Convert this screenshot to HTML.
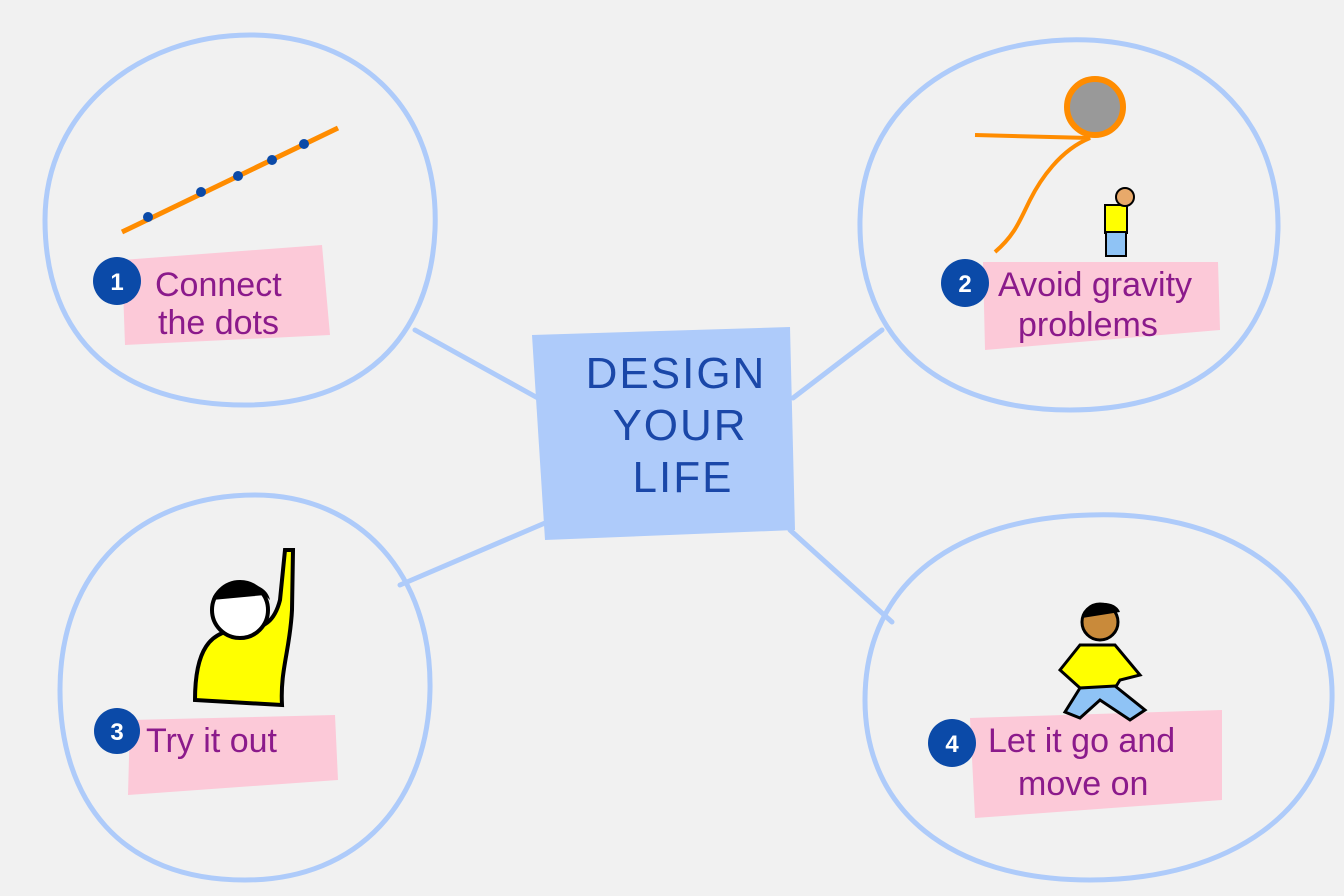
<!DOCTYPE html>
<html><head><meta charset="utf-8"><style>
html,body{margin:0;padding:0;background:#f1f1f1;}
svg{display:block}
text{font-family:"Liberation Sans",sans-serif;}
</style></head><body>
<svg width="1344" height="896" viewBox="0 0 1344 896" xmlns="http://www.w3.org/2000/svg">
<rect width="1344" height="896" fill="#f1f1f1"/>
<g fill="none" stroke="#aecbfa" stroke-width="5" stroke-linecap="round">
<!-- connectors -->
<path d="M415 330 L545 402"/>
<path d="M793 398 L882 330"/>
<path d="M400 585 L545 523"/>
<path d="M790 530 L892 622"/>
<!-- blobs -->
<path d="M250 35 C360 35 440 110 435 230 C430 340 360 405 245 405 C120 405 45 340 45 220 C45 110 140 35 250 35 Z"/>
<path d="M1065 40 C1200 35 1280 120 1278 230 C1275 340 1200 410 1070 410 C940 410 858 340 860 220 C862 110 950 45 1065 40 Z"/>
<path d="M255 495 C360 495 432 575 430 690 C428 800 360 880 245 880 C120 880 60 800 60 690 C60 570 140 495 255 495 Z"/>
<path d="M1090 515 C1240 510 1335 590 1332 700 C1330 810 1230 880 1090 880 C950 880 865 810 865 700 C865 580 960 518 1090 515 Z"/>
</g>
<!-- center box -->
<path d="M532 335 L790 327 L795 530 L545 540 L538 430 Z" fill="#aecbfa"/>
<g fill="#1a47a8" font-size="44" text-anchor="middle">
<text x="676" y="388" letter-spacing="2">DESIGN</text>
<text x="680" y="440" letter-spacing="2">YOUR</text>
<text x="683" y="492" letter-spacing="2">LIFE</text>
</g>
<!-- blob1 line -->
<path d="M122 232 L338 128" stroke="#ff8c00" stroke-width="5" fill="none"/>
<g fill="#0b4aa8"><circle cx="148" cy="217" r="5"/><circle cx="201" cy="192" r="5"/><circle cx="238" cy="176" r="5"/><circle cx="272" cy="160" r="5"/><circle cx="304" cy="144" r="5"/></g>
<!-- labels -->
<g fill="#fcc9d8">
<path d="M122 260 L322 245 L330 335 L125 345 Z"/>
<path d="M983 262 L1218 262 L1220 330 L985 350 Z"/>
<path d="M130 720 L335 715 L338 780 L128 795 Z"/>
<path d="M970 718 L1222 710 L1222 800 L975 818 Z"/>
</g>
<g fill="#0b4aa8"><circle cx="117" cy="281" r="24"/><circle cx="965" cy="283" r="24"/><circle cx="117" cy="731" r="23"/><circle cx="952" cy="743" r="24"/></g>
<g fill="#fff" font-size="24" font-weight="bold" text-anchor="middle">
<text x="117" y="290">1</text><text x="965" y="292">2</text><text x="117" y="740">3</text><text x="952" y="752">4</text>
</g>
<g fill="#8b1a8b" font-size="34">
<text x="155" y="296">Connect</text>
<text x="158" y="334">the dots</text>
<text x="998" y="296">Avoid gravity</text>
<text x="1018" y="336">problems</text>
<text x="146" y="752">Try it out</text>
<text x="988" y="752">Let it go and</text>
<text x="1018" y="795">move on</text>
</g>
<!-- blob2 drawing -->
<path d="M975 135 L1090 138 C1060 150 1040 180 1030 200 C1020 220 1015 235 995 252" stroke="#ff8c00" stroke-width="4" fill="none"/>
<circle cx="1095" cy="107" r="28" fill="#999" stroke="#ff8c00" stroke-width="6"/>
<rect x="1105" y="205" width="22" height="28" fill="#ffff00" stroke="#000" stroke-width="2"/>
<rect x="1106" y="232" width="20" height="24" fill="#8fc3f5" stroke="#000" stroke-width="2"/>
<circle cx="1125" cy="197" r="9" fill="#e8a96a" stroke="#000" stroke-width="2"/>
<!-- blob3 person -->
<path d="M195 700 C195 650 210 630 240 630 C265 630 275 620 280 600 L285 550 L293 550 L292 610 C290 650 280 670 282 705 Z" fill="#ffff00" stroke="#000" stroke-width="4"/>
<circle cx="240" cy="610" r="28" fill="#fff" stroke="#000" stroke-width="4"/>
<path d="M212 600 C215 580 265 575 270 600 L265 595 Z" fill="#000"/>
<!-- blob4 person -->
<path d="M1060 670 L1080 645 L1115 645 L1140 675 L1120 680 L1115 688 L1080 688 Z" fill="#ffff00" stroke="#000" stroke-width="3"/>
<path d="M1080 688 L1065 712 L1080 718 L1100 700 L1130 720 L1145 710 L1115 686 Z" fill="#8fc3f5" stroke="#000" stroke-width="3"/>
<circle cx="1100" cy="622" r="18" fill="#c98a3a" stroke="#000" stroke-width="3"/>
<path d="M1082 618 C1085 600 1115 598 1120 612 Z" fill="#000"/>
</svg>
</body></html>
